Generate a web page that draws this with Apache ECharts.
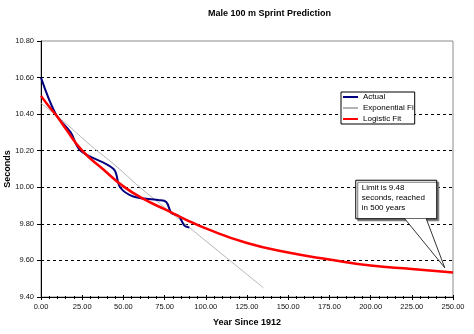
<!DOCTYPE html>
<html>
<head>
<meta charset="utf-8">
<script src="https://cdn.jsdelivr.net/npm/echarts@6/dist/echarts.min.js"></script>
<style>
  html, body { margin: 0; padding: 0; background: #fff; }
  #chart { width: 474px; height: 334px; }
</style>
</head>
<body>
<div id="chart"></div>
<script>
// World record progression (years since 1912, seconds)
const actualYears = [0, 9, 18, 24, 44, 48, 56, 71, 76, 79, 82, 84, 87, 90];
const actualTimes = [10.60, 10.40, 10.30, 10.20, 10.10, 10.00, 9.95, 9.93, 9.92, 9.86, 9.85, 9.84, 9.79, 9.78];

// Exponential trend line
const expYears = [0, 15, 30, 45, 60, 75, 90, 105, 120, 135];
const expTimes = [10.46, 10.35, 10.23, 10.12, 10.00, 9.89, 9.78, 9.67, 9.56, 9.45];

// Logistic trend line
const logYears = [0, 5, 10, 15, 25, 37.5, 50, 62.5, 75, 87.5, 100, 125, 150, 175, 200, 225, 250];
const logTimes = [10.50, 10.44, 10.385, 10.32, 10.20, 10.10, 10.005, 9.935, 9.88, 9.825, 9.775, 9.695, 9.643, 9.605, 9.572, 9.553, 9.534];

// Axis ranges
const xMin = 0, xMax = 250, xStep = 25;
const yMin = 9.4, yMax = 10.8, yStep = 0.2;

// Callout text and the point it refers to
const noteLines = ['Limit is 9.48', 'seconds, reached', 'in 500 years'];
const notePoint = [245, 9.56];

const pairs = (xs, ys) => xs.map((x, i) => [x, ys[i]]);
const FONT = '"Liberation Sans", Arial, sans-serif';

const chart = echarts.init(document.getElementById('chart'), null, { renderer: 'canvas' });

chart.setOption({
  animation: false,
  backgroundColor: '#fff',
  title: {
    text: 'Male 100 m Sprint Prediction',
    left: 208,
    top: 9,
    padding: 0,
    textStyle: { fontFamily: FONT, fontSize: 9, fontWeight: 'bold', color: '#000' }
  },
  grid: {
    left: 41, right: 21, top: 41, bottom: 37,
    containLabel: false,
    outerBoundsMode: 'none',
    show: true,
    borderColor: '#8c8c8c',
    borderWidth: 1,
    backgroundColor: '#fff'
  },
  legend: {
    left: 341,
    top: 92,
    orient: 'vertical',
    padding: [1, 1, 1, 1],
    itemGap: 3,
    itemWidth: 15,
    itemHeight: 10,
    borderColor: '#000',
    borderWidth: 1,
    backgroundColor: '#fff',
    itemStyle: { opacity: 0 },
    data: ['Actual', 'Exponential Fit', 'Logistic Fit'],
    textStyle: {
      fontFamily: FONT, fontSize: 8, color: '#000',
      width: 52, overflow: 'truncate', ellipsis: ''
    }
  },
  xAxis: [
    {
      type: 'value',
      min: xMin, max: xMax, interval: xStep,
      name: 'Year Since 1912',
      nameLocation: 'middle',
      nameGap: 21,
      nameMoveOverlap: false,
      nameTextStyle: { fontFamily: FONT, fontSize: 9, fontWeight: 'bold', color: '#000' },
      axisLine: { show: true, lineStyle: { color: '#000', width: 1 } },
      axisTick: { show: true, length: 3, lineStyle: { color: '#000' } },
      minorTick: { show: true, splitNumber: 5, length: 2, lineStyle: { color: '#000' } },
      axisLabel: {
        fontFamily: FONT, fontSize: 7.5, color: '#111', margin: 6,
        formatter: v => v.toFixed(2)
      },
      splitLine: { show: false }
    },
    {
      // inner half of the crossing tick marks
      type: 'value',
      min: xMin, max: xMax, interval: xStep,
      position: 'bottom',
      axisLine: { show: false },
      axisTick: { show: true, inside: true, length: 2, lineStyle: { color: '#000' } },
      minorTick: { show: true, splitNumber: 5, length: 1, lineStyle: { color: '#000' } },
      axisLabel: { show: false },
      splitLine: { show: false }
    }
  ],
  yAxis: [
    {
      type: 'value',
      min: yMin, max: yMax, interval: yStep,
      name: 'Seconds',
      nameLocation: 'middle',
      nameGap: 29,
      nameMoveOverlap: false,
      nameTextStyle: { fontFamily: FONT, fontSize: 9, fontWeight: 'bold', color: '#000' },
      axisLine: { show: true, lineStyle: { color: '#000', width: 1 } },
      axisTick: { show: true, length: 4, lineStyle: { color: '#000' } },
      axisLabel: {
        fontFamily: FONT, fontSize: 7.5, color: '#111', margin: 7,
        formatter: v => v.toFixed(2)
      },
      splitLine: {
        show: true,
        showMinLine: false,
        showMaxLine: false,
        lineStyle: { color: '#000', width: 1, type: [3, 3] }
      }
    }
  ],
  series: [
    {
      name: 'Exponential Fit',
      type: 'line',
      data: pairs(expYears, expTimes),
      smooth: true,
      symbol: 'none',
      z: 3,
      lineStyle: { color: '#b4b4b4', width: 1 },
      itemStyle: { color: '#b4b4b4' }
    },
    {
      name: 'Actual',
      type: 'line',
      data: pairs(actualYears, actualTimes),
      smooth: 0.35,
      symbol: 'none',
      z: 4,
      lineStyle: { color: '#000080', width: 2 },
      itemStyle: { color: '#000080' }
    },
    {
      name: 'Logistic Fit',
      type: 'line',
      data: pairs(logYears, logTimes),
      smooth: true,
      symbol: 'none',
      z: 5,
      lineStyle: { color: '#ff0000', width: 2.5 },
      itemStyle: { color: '#ff0000' }
    }
  ]
});

// Callout box pointing at the fitted curve near its right end
const tip = chart.convertToPixel({ xAxisIndex: 0, yAxisIndex: 0 }, notePoint);
const boxW = 81, boxH = 38.5;
const bx = tip[0] - 89, by = tip[1] - 87.5;
const baseA = [bx + 49, by + boxH];
const baseB = [bx + 70.5, by + boxH];

chart.setOption({
  graphic: [
    {
      type: 'rect',
      z: 100,
      shape: { x: bx, y: by, width: boxW, height: boxH },
      style: {
        fill: '#fff', stroke: '#000', lineWidth: 1,
        shadowColor: '#7a7a7a', shadowOffsetX: 2, shadowOffsetY: 2, shadowBlur: 0
      }
    },
    {
      type: 'polygon',
      z: 101,
      shape: { points: [baseA, tip, baseB] },
      style: { fill: '#fff' }
    },
    {
      type: 'polyline',
      z: 102,
      shape: { points: [baseA, tip, baseB] },
      style: { stroke: '#000', lineWidth: 0.8, fill: null }
    },
    {
      type: 'text',
      z: 103,
      style: {
        text: noteLines.join('\n'),
        x: bx + 6,
        y: by + 3,
        font: '8px ' + FONT,
        lineHeight: 10,
        fill: '#000'
      }
    }
  ]
});
</script>
</body>
</html>
